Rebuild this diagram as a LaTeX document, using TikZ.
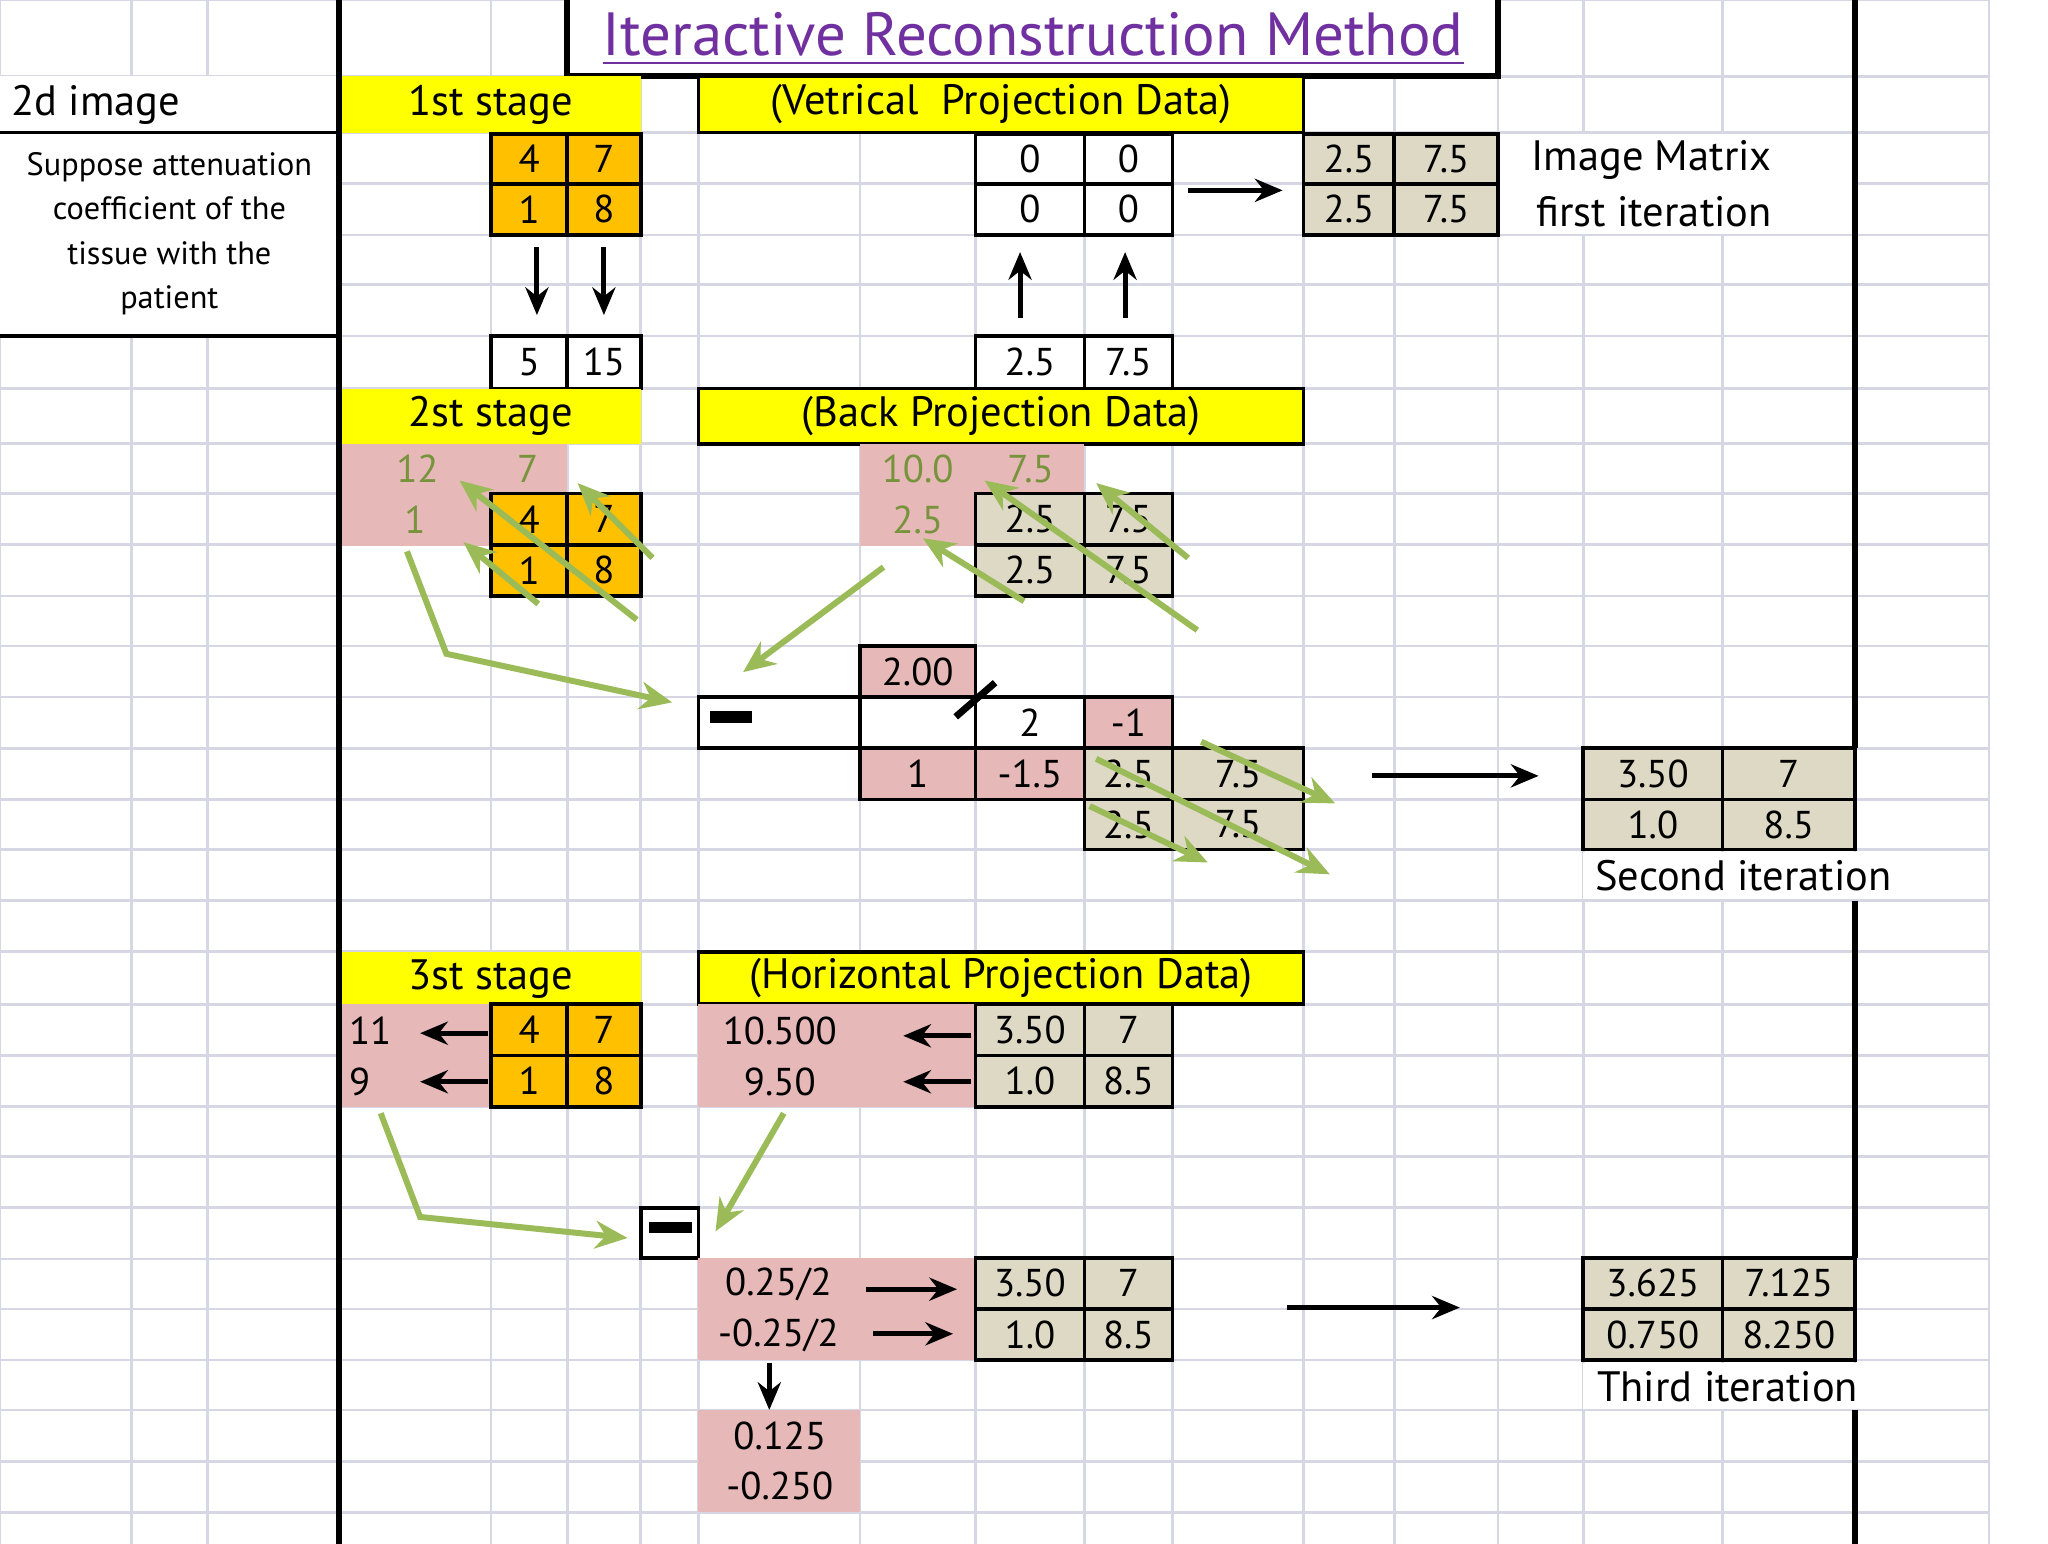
\documentclass[tikz,border=0pt]{standalone}
\usepackage{fontspec}
\setmainfont{PT Sans}
\usetikzlibrary{arrows.meta}
\definecolor{gridc}{HTML}{D6D6E4}
\definecolor{yel}{HTML}{FFFF00}
\definecolor{org}{HTML}{FFC000}
\definecolor{pnk}{HTML}{E6B8B7}
\definecolor{tan}{HTML}{DDD9C4}
\definecolor{grn}{HTML}{9BBB59}
\definecolor{olv}{HTML}{77933C}
\definecolor{pur}{HTML}{7030A0}
\tikzset{
 bx/.style={draw=black,line width=0.8pt},
 txt/.style={inner sep=0pt,font=\fontsize{8.4}{10}\selectfont},
 big/.style={inner sep=0pt,font=\fontsize{9.2}{11}\selectfont},
 bar/.style={-{Stealth[length=6pt,width=5pt]},line width=1.1pt},
 gar/.style={-{Stealth[length=7pt,width=6pt]},line width=1.3pt,draw=grn,color=grn},
}
% \cell{name}{x1}{y1}{x2}{y2}{fill}{text}
\newcommand{\cell}[7]{%
 \fill[#6] (#2,#3) rectangle (#4,#5);
 \draw[bx] (#2,#3) rectangle (#4,#5);
 \node[txt] (#1) at ({(#2+#4)/2},{(#3+#5)/2}) {#7};}
\newcommand{\pc}[5]{\fill[#5] (#1,#2) rectangle (#3,#4);}
\begin{document}
\begin{tikzpicture}[x=0.01cm,y=-0.01cm]
\useasboundingbox (0,0) rectangle (1560,1176);
\fill[white] (0,0) rectangle (1560,1176);
% grid
\foreach \x in {0,100,158,258,374,432,488,532,655,743,826,893,993,1062,1141,1206,1312,1413,1515}
  \draw[gridc,line width=0.6pt] (\x,0) -- (\x,1176);
\foreach \y in {0,58,101,140,179,217,256,296,338,376,415,454,492,531,570,609,647,686,725,765,804,843,881,920,959,997,1036,1074,1113,1152}
  \draw[gridc,line width=0.6pt] (0,\y) -- (1515,\y);
\fill[white] (0,102) rectangle (257,255);
\fill[white] (1142,102) rectangle (1412,178);
% title
\fill[white] (432,0) rectangle (1141,58);
\draw[line width=1.2pt] (432,0) -- (432,58) -- (1141,58) -- (1141,0);
\node[inner sep=0pt,text=pur,font=\fontsize{13.2}{15}\selectfont] (title) at (787,30) {\underline{Iteractive Reconstruction Method}};
% 2d image
\fill[white] (0,58) rectangle (257,101);
\node[big,anchor=west] (img) at (8,80) {2d image};
\draw[line width=0.8pt] (0,101) -- (258,101);
\draw[line width=0.8pt] (0,256) -- (258,256);
\node[inner sep=0pt,align=center,font=\fontsize{7}{9.6}\selectfont] (sup) at (129,178) {Suppose attenuation\\coefficient of the\\tissue with the\\patient};
% stage 1
\pc{258}{58}{488}{101}{yel}
\node[big] (s1) at (374,80) {1st stage};
\cell{vp}{532}{58}{993}{101}{yel}{\fontsize{9.2}{11}\selectfont(Vetrical\ \ Projection Data)}
\cell{a1}{374}{102}{432}{140}{org}{4}
\cell{a2}{432}{102}{488}{140}{org}{7}
\cell{a3}{374}{140}{432}{179}{org}{1}
\cell{a4}{432}{140}{488}{179}{org}{8}
\cell{p1}{374}{256}{432}{296}{white}{5}
\cell{p2}{432}{256}{488}{296}{white}{15}
\coordinate (d1) at (409,188); \coordinate (d1e) at (409,240);
\coordinate (d2) at (460,188); \coordinate (d2e) at (460,240);
\draw[bar] (d1) -- (d1e); \draw[bar] (d2) -- (d2e);
\cell{z1}{743}{102}{826}{140}{white}{0}
\cell{z2}{826}{102}{893}{140}{white}{0}
\cell{z3}{743}{140}{826}{179}{white}{0}
\cell{z4}{826}{140}{893}{179}{white}{0}
\cell{q1}{743}{256}{826}{296}{white}{2.5}
\cell{q2}{826}{256}{893}{296}{white}{7.5}
\coordinate (u1) at (777,242); \coordinate (u1e) at (777,192);
\coordinate (u2) at (857,242); \coordinate (u2e) at (857,192);
\draw[bar] (u1) -- (u1e); \draw[bar] (u2) -- (u2e);
\coordinate (r1) at (905,145); \coordinate (r1e) at (977,145);
\draw[bar] (r1) -- (r1e);
\cell{m1}{993}{102}{1062}{140}{tan}{2.5}
\cell{m2}{1062}{102}{1141}{140}{tan}{7.5}
\cell{m3}{993}{140}{1062}{179}{tan}{2.5}
\cell{m4}{1062}{140}{1141}{179}{tan}{7.5}
\node[big] (im) at (1258,122) {Image Matrix};
\node[big] (fi) at (1260,161) {first iteration};
% stage 2
\pc{258}{296}{488}{338}{yel}
\node[big] (s2) at (374,317) {2st stage};
\cell{bp}{532}{296}{993}{338}{yel}{\fontsize{9.2}{11}\selectfont(Back Projection Data)}
\pc{258}{338}{432}{416}{pnk}
\node[txt,text=olv] (g12) at (318,357) {12};
\node[txt,text=olv] (g7) at (402,357) {7};
\node[txt,text=olv] (g1) at (316,396) {1};
\cell{b1}{374}{376}{432}{415}{org}{4}
\cell{b2}{432}{376}{488}{415}{org}{7}
\cell{b3}{374}{415}{432}{454}{org}{1}
\cell{b4}{432}{415}{488}{454}{org}{8}
\pc{655}{338}{826}{376}{pnk}
\pc{655}{376}{743}{416}{pnk}
\node[txt,text=olv] (h10) at (699,357) {10.0};
\node[txt,text=olv] (h75) at (785,357) {7.5};
\node[txt,text=olv] (h25) at (699,396) {2.5};
\cell{c1}{743}{376}{826}{415}{tan}{2.5}
\cell{c2}{826}{376}{893}{415}{tan}{7.5}
\cell{c3}{743}{415}{826}{454}{tan}{2.5}
\cell{c4}{826}{415}{893}{454}{tan}{7.5}
\coordinate (ga1) at (497,425); \coordinate (ga1e) at (440,368);
\coordinate (ga2) at (485,472); \coordinate (ga2e) at (350,366);
\coordinate (ga3) at (410,460); \coordinate (ga3e) at (353,413);
\coordinate (gb1) at (905,425); \coordinate (gb1e) at (835,368);
\coordinate (gb2) at (912,480); \coordinate (gb2e) at (750,366);
\coordinate (gb3) at (780,458); \coordinate (gb3e) at (703,410);
\coordinate (gc) at (673,432); \coordinate (gce) at (566,512);
\coordinate (gp1) at (310,420); \coordinate (gp2) at (340,498); \coordinate (gp3) at (512,535);
\foreach \s in {ga1,ga2,ga3,gb1,gb2,gb3,gc} \draw[gar] (\s) -- (\s e);
\draw[gar] (gp1) -- (gp2) -- (gp3);
\cell{t200}{655}{492}{743}{531}{pnk}{2.00}
\cell{minus}{532}{531}{655}{570}{white}{}
\draw[line width=2.5pt] (541,546) -- (573,546);
\cell{e1}{655}{531}{743}{570}{white}{}
\cell{e2}{743}{531}{826}{570}{white}{2}
\cell{e3}{826}{531}{893}{570}{pnk}{-1}
\draw[line width=1.5pt] (728,546) -- (758,520);
\cell{f1}{655}{570}{743}{609}{pnk}{1}
\cell{f2}{743}{570}{826}{609}{pnk}{-1.5}
\cell{f3}{826}{570}{893}{609}{tan}{2.5}
\cell{f4}{893}{570}{993}{609}{tan}{7.5}
\cell{f5}{826}{609}{893}{647}{tan}{2.5}
\cell{f6}{893}{609}{993}{647}{tan}{7.5}
\coordinate (gd1) at (915,565); \coordinate (gd1e) at (1017,612);
\coordinate (gd2) at (835,578); \coordinate (gd2e) at (1013,666);
\coordinate (gd3) at (830,614); \coordinate (gd3e) at (920,657);
\foreach \s in {gd1,gd2,gd3} \draw[gar] (\s) -- (\s e);
\coordinate (r2) at (1045,591); \coordinate (r2e) at (1172,591);
\draw[bar] (r2) -- (r2e);
\cell{n1}{1206}{570}{1312}{609}{tan}{3.50}
\cell{n2}{1312}{570}{1413}{609}{tan}{7}
\cell{n3}{1206}{609}{1312}{647}{tan}{1.0}
\cell{n4}{1312}{609}{1413}{647}{tan}{8.5}
\fill[white] (1206,649) rectangle (1512,685);
\node[big] (si) at (1328,667) {Second iteration};
% stage 3
\pc{258}{725}{488}{765}{yel}
\node[big] (s3) at (374,746) {3st stage};
\cell{hp}{532}{725}{993}{765}{yel}{\fontsize{9.2}{11}\selectfont(Horizontal Projection Data)}
\pc{258}{765}{374}{843}{pnk}
\node[txt] (k11) at (282,785) {11};
\node[txt] (k9) at (274,824) {9};
\cell{o1}{374}{765}{432}{804}{org}{4}
\cell{o2}{432}{765}{488}{804}{org}{7}
\cell{o3}{374}{804}{432}{843}{org}{1}
\cell{o4}{432}{804}{488}{843}{org}{8}
\coordinate (l1) at (372,787); \coordinate (l1e) at (320,787);
\coordinate (l2) at (372,824); \coordinate (l2e) at (320,824);
\pc{532}{765}{743}{843}{pnk}
\node[txt] (k105) at (594,785) {10.500};
\node[txt] (k95) at (594,824) {9.50};
\coordinate (l3) at (740,789); \coordinate (l3e) at (688,789);
\coordinate (l4) at (740,824); \coordinate (l4e) at (688,824);
\foreach \s in {l1,l2,l3,l4} \draw[bar] (\s) -- (\s e);
\cell{w1}{743}{765}{826}{804}{tan}{3.50}
\cell{w2}{826}{765}{893}{804}{tan}{7}
\cell{w3}{743}{804}{826}{843}{tan}{1.0}
\cell{w4}{826}{804}{893}{843}{tan}{8.5}
\coordinate (gq1) at (290,848); \coordinate (gq2) at (320,927); \coordinate (gq3) at (478,943);
\draw[gar] (gq1) -- (gq2) -- (gq3);
\coordinate (gr) at (597,848); \coordinate (gre) at (545,938);
\draw[gar] (gr) -- (gre);
\cell{mn2}{488}{920}{532}{958}{white}{}
\draw[line width=2.5pt] (494,935) -- (527,935);
\pc{532}{958}{743}{1036}{pnk}
\node[txt] (v1) at (593,978) {0.25/2};
\node[txt] (v2) at (593,1017) {-0.25/2};
\coordinate (l5) at (660,982); \coordinate (l5e) at (729,982);
\coordinate (l6) at (665,1016); \coordinate (l6e) at (726,1016);
\foreach \s in {l5,l6} \draw[bar] (\s) -- (\s e);
\cell{x1}{743}{958}{826}{997}{tan}{3.50}
\cell{x2}{826}{958}{893}{997}{tan}{7}
\cell{x3}{743}{997}{826}{1036}{tan}{1.0}
\cell{x4}{826}{997}{893}{1036}{tan}{8.5}
\coordinate (r3) at (980,996); \coordinate (r3e) at (1112,996);
\draw[bar] (r3) -- (r3e);
\cell{y1}{1206}{958}{1312}{997}{tan}{3.625}
\cell{y2}{1312}{958}{1413}{997}{tan}{7.125}
\cell{y3}{1206}{997}{1312}{1036}{tan}{0.750}
\cell{y4}{1312}{997}{1413}{1036}{tan}{8.250}
\fill[white] (1206,1038) rectangle (1512,1073);
\node[big] (ti) at (1316,1056) {Third iteration};
\coordinate (dd) at (586,1038); \coordinate (dde) at (586,1074);
\draw[bar] (dd) -- (dde);
\pc{532}{1074}{655}{1152}{pnk}
\node[txt] (v3) at (594,1094) {0.125};
\node[txt] (v4) at (594,1132) {-0.250};
% thick verticals
\draw[line width=1.3pt] (258,0) -- (258,1176);
\draw[line width=1.3pt] (1413,0) -- (1413,570);
\draw[line width=1.3pt] (1413,686) -- (1413,958);
\draw[line width=1.3pt] (1413,1074) -- (1413,1176);
\end{tikzpicture}
\end{document}
